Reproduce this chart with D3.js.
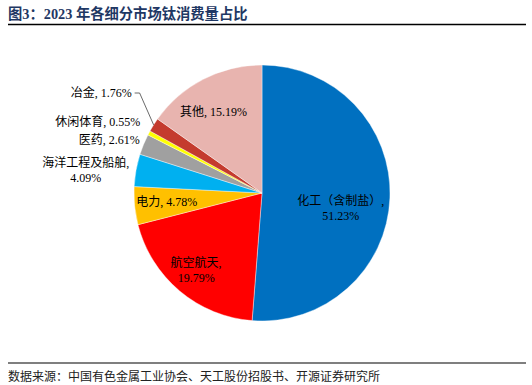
<!DOCTYPE html>
<html>
<head>
<meta charset="utf-8">
<script src="https://cdn.jsdelivr.net/npm/d3@7"></script>
<style>
  body { margin: 0; background: #fff; }
  svg text { font-family: "Liberation Serif", "Noto Sans CJK SC", serif; }
</style>
</head>
<body>
<div id="chart"></div>
<script>
// 데이터
const categories = ["化工（含制盐）", "航空航天", "电力", "海洋工程及船舶", "医药", "休闲体育", "冶金", "其他"];
const values = [51.23, 19.79, 4.78, 4.09, 2.61, 0.55, 1.76, 15.19];
const colors = ["#0070C0", "#FF0000", "#FFC000", "#00B0F0", "#A0A0A0", "#FFFF00", "#C43B2E", "#E8B4AF"];

const width = 532, height = 385;
const cx = 262, cy = 193, R = 128;

const svg = d3.select("#chart").append("svg")
  .attr("width", width).attr("height", height);

// 제목
svg.append("text")
  .attr("x", 8).attr("y", 19)
  .attr("fill", "#1F3864")
  .style("font-size", "14.3px").style("font-weight", "bold")
  .text("图3：2023 年各细分市场钛消费量占比");
svg.append("line").attr("x1", 8).attr("x2", 526).attr("y1", 24.5).attr("y2", 24.5)
  .attr("stroke", "#000").attr("stroke-width", 1.5);

// 출처
svg.append("line").attr("x1", 8).attr("x2", 526).attr("y1", 363).attr("y2", 363)
  .attr("stroke", "#000").attr("stroke-width", 1.2);
svg.append("text")
  .attr("x", 8).attr("y", 381)
  .attr("fill", "#222")
  .style("font-size", "12px")
  .text("数据来源：中国有色金属工业协会、天工股份招股书、开源证券研究所");

const pie = d3.pie().sort(null).value((d) => d)(values);
const arc = d3.arc().innerRadius(0).outerRadius(R);

const g = svg.append("g").attr("transform", `translate(${cx},${cy})`);

g.selectAll("path")
  .data(pie)
  .enter()
  .append("path")
  .attr("d", arc)
  .attr("fill", (d, i) => colors[i])
  .attr("stroke", "#fff")
  .attr("stroke-width", 0.4);

// 라벨 배치 (반지름 배율, 앵커, 보정)
const labelLayout = [
  { r: 0.6, anchor: "middle", dx: 2, dy: 13, split: true },
  { r: 0.8, anchor: "middle", dx: 0, dy: 0, split: true },
  { r: 0.78, anchor: "middle", dx: 4, dy: -1, split: false },
  { r: 1.05, anchor: "end", dx: 0, dy: 2, split: true },
  { r: 1.05, anchor: "end", dx: 2, dy: -2, split: false },
  { r: 1.05, anchor: "end", dx: -3, dy: -8, split: false },
  { r: 1.0, anchor: "end", dx: 0, dy: 0, split: false, leader: true },
  { r: 0.74, anchor: "middle", dx: -5, dy: 3, split: false },
];

const midPos = (d, r) => {
  const a = (d.startAngle + d.endAngle) / 2;
  return [r * Math.sin(a), -r * Math.cos(a)];
};

pie.forEach((d, i) => {
  const L = labelLayout[i];
  let [x, y] = midPos(d, R * L.r);
  if (L.leader) {
    // 冶金 라벨: 위쪽으로 올리고 선 연결
    const [ex, ey] = midPos(d, R);
    const lx = ex - 14, ly = -100;
    g.append("polyline")
      .attr("points", `${ex},${ey} ${lx},${ly} ${lx - 5},${ly}`)
      .attr("fill", "none").attr("stroke", "#444").attr("stroke-width", 0.8);
    x = lx - 8; y = ly;
  }
  x += L.dx; y += L.dy;
  const t = g.append("text")
    .attr("text-anchor", L.split ? "middle" : L.anchor)
    .attr("fill", "#000")
    .style("font-size", "12px");
  const pct = values[i].toFixed(2) + "%";
  if (L.split) {
    let mx = x;
    if (L.anchor === "end") mx = x - 44;
    t.append("tspan").attr("x", mx).attr("y", y - 4).text(categories[i] + ",");
    t.append("tspan").attr("x", mx).attr("y", y + 11).text(pct);
  } else {
    t.attr("x", x).attr("y", y + 4).text(categories[i] + ", " + pct);
  }
});
</script>
</body>
</html>
